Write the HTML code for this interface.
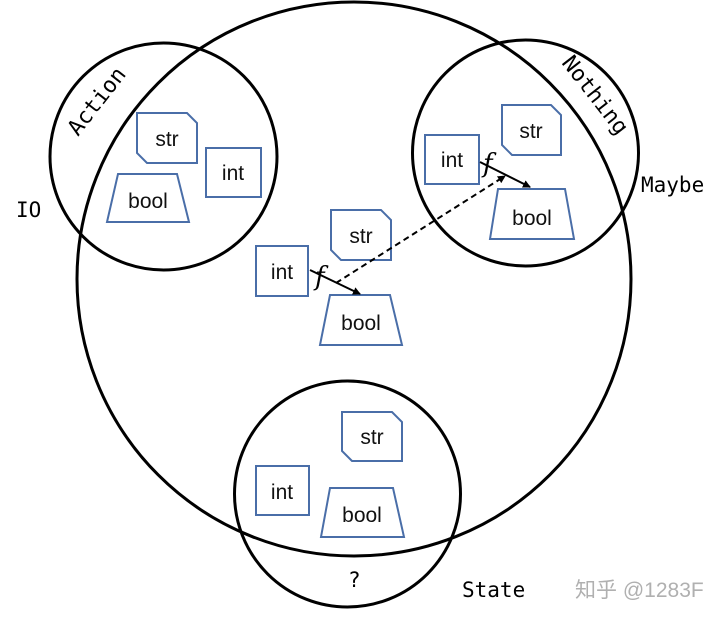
<!DOCTYPE html>
<html><head><meta charset="utf-8"><style>
html,body{margin:0;padding:0;background:#fff;}
svg{display:block;}
.c{fill:none;stroke:#000;stroke-width:3;}
.b{fill:#fff;stroke:#4a6ea8;stroke-width:2;}
.t{font-family:"Liberation Sans",sans-serif;font-size:21px;fill:#111;text-anchor:middle;}
.m{font-family:"DejaVu Sans Mono","Liberation Mono",monospace;font-size:21px;fill:#000;}
.f{font-family:"DejaVu Serif","Liberation Serif",serif;font-style:italic;font-size:26px;fill:#000;}
</style></head><body>
<svg width="725" height="619" viewBox="0 0 725 619">
<defs><marker id="a" markerWidth="8" markerHeight="8" refX="7" refY="4" orient="auto" markerUnits="userSpaceOnUse"><path d="M0,0 L8,4 L0,8 Z" fill="#000"/></marker></defs>
<ellipse class="c" cx="354" cy="279" rx="277" ry="277"/>
<circle class="c" cx="163.5" cy="156.5" r="113.5"/>
<circle class="c" cx="525.5" cy="153" r="113"/>
<circle class="c" cx="347.5" cy="494" r="113"/>

<path class="b" d="M137,113 H187 L197,123 V163 H147 L137,153 Z"/>
<text class="t" x="167" y="146">str</text>
<rect class="b" x="206" y="148" width="55" height="49"/>
<text class="t" x="233" y="180">int</text>
<path class="b" d="M118,174 H177 L189,222 H107 Z"/>
<text class="t" x="148" y="208">bool</text>

<path class="b" d="M331,210 H381 L391,220 V260 H341 L331,250 Z"/>
<text class="t" x="361" y="243">str</text>
<rect class="b" x="256" y="246" width="52" height="50"/>
<text class="t" x="282" y="279">int</text>
<path class="b" d="M330,295 H390 L402,345 H320 Z"/>
<text class="t" x="361" y="330">bool</text>

<path class="b" d="M502,105 H551 L561,115 V155 H512 L502,145 Z"/>
<text class="t" x="531" y="138">str</text>
<rect class="b" x="425" y="135" width="54" height="49"/>
<text class="t" x="452" y="167">int</text>
<path class="b" d="M498,189 H565 L574,239 H490 Z"/>
<text class="t" x="532" y="225">bool</text>

<path class="b" d="M342,412 H392 L402,422 V461 H352 L342,451 Z"/>
<text class="t" x="372" y="444">str</text>
<rect class="b" x="256" y="466" width="53" height="49"/>
<text class="t" x="282" y="499">int</text>
<path class="b" d="M330,488 H393 L404,537 H321 Z"/>
<text class="t" x="362" y="522">bool</text>

<line x1="310" y1="270" x2="360" y2="294" stroke="#000" stroke-width="2" marker-end="url(#a)"/>
<line x1="480" y1="162" x2="530" y2="187" stroke="#000" stroke-width="2" marker-end="url(#a)"/>
<line x1="336" y1="283" x2="505" y2="176" stroke="#000" stroke-width="2" stroke-dasharray="6,4" marker-end="url(#a)"/>
<text class="f" x="315" y="285">f</text>
<text class="f" x="483" y="172">f</text>

<text class="m" x="16" y="217">IO</text>
<text class="m" x="641" y="192">Maybe</text>
<text class="m" x="462" y="597">State</text>
<text class="m" x="348" y="587">?</text>
<text class="m" style="font-size:22px" transform="translate(78,137) rotate(-52)">Action</text>
<text class="m" style="font-size:22px" transform="translate(561,63) rotate(52)">Nothing</text>
<text x="575" y="597" style="font-family:'Liberation Sans','Noto Sans CJK SC',sans-serif;font-size:21px;fill:#b0b0b0;">知乎 @1283F</text>
</svg>
</body></html>
